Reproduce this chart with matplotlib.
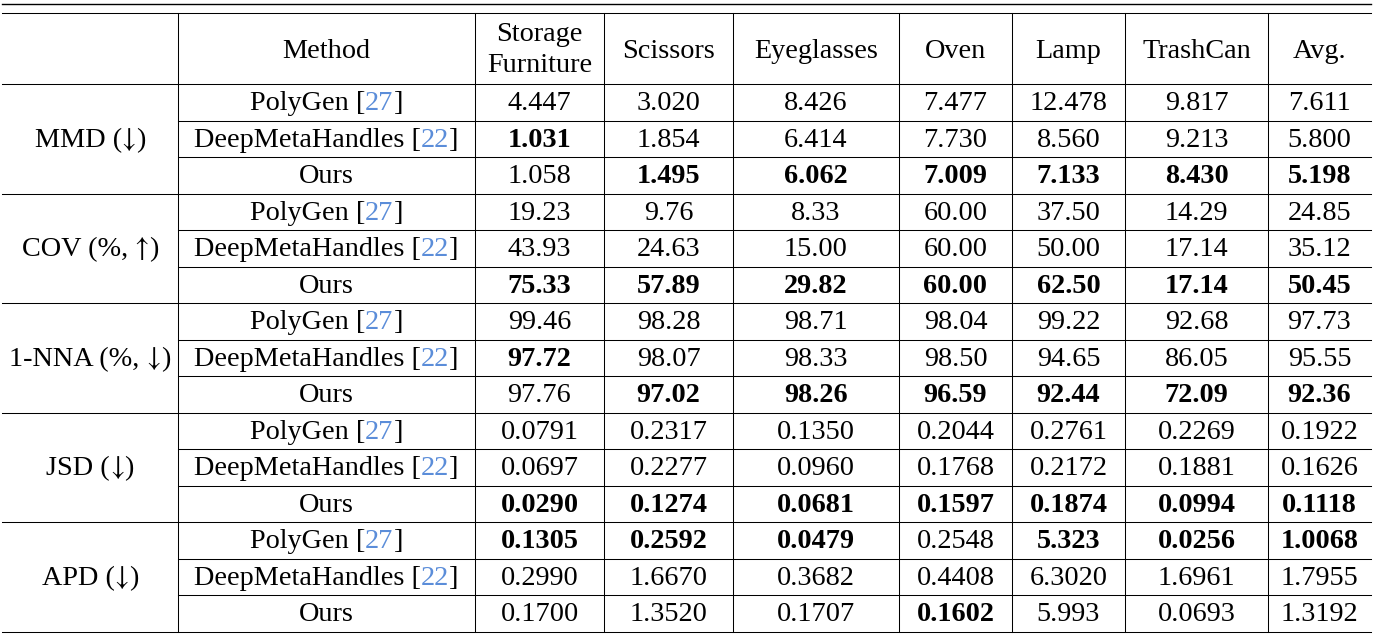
import matplotlib
matplotlib.use('Agg')
import matplotlib.pyplot as plt

# ---------------- data ----------------
categories = ["Storage\nFurniture", "Scissors", "Eyeglasses", "Oven", "Lamp", "TrashCan", "Avg."]
metric_names = ["MMD", "COV", "1-NNA", "JSD", "APD"]
metric_units = ["", "%, ", "%, ", "", ""]
metric_arrows = ["↓", "↑", "↓", "↓", "↓"]
methods = ["PolyGen", "DeepMetaHandles", "Ours"]
citations = ["27", "22", None]

mmd_vals = [["4.447", "3.020", "8.426", "7.477", "12.478", "9.817", "7.611"],
            ["1.031", "1.854", "6.414", "7.730", "8.560", "9.213", "5.800"],
            ["1.058", "1.495", "6.062", "7.009", "7.133", "8.430", "5.198"]]
mmd_bold = [[0, 0, 0, 0, 0, 0, 0],
            [1, 0, 0, 0, 0, 0, 0],
            [0, 1, 1, 1, 1, 1, 1]]

cov_vals = [["19.23", "9.76", "8.33", "60.00", "37.50", "14.29", "24.85"],
            ["43.93", "24.63", "15.00", "60.00", "50.00", "17.14", "35.12"],
            ["75.33", "57.89", "29.82", "60.00", "62.50", "17.14", "50.45"]]
cov_bold = [[0, 0, 0, 0, 0, 0, 0],
            [0, 0, 0, 0, 0, 0, 0],
            [1, 1, 1, 1, 1, 1, 1]]

nna_vals = [["99.46", "98.28", "98.71", "98.04", "99.22", "92.68", "97.73"],
            ["97.72", "98.07", "98.33", "98.50", "94.65", "86.05", "95.55"],
            ["97.76", "97.02", "98.26", "96.59", "92.44", "72.09", "92.36"]]
nna_bold = [[0, 0, 0, 0, 0, 0, 0],
            [1, 0, 0, 0, 0, 0, 0],
            [0, 1, 1, 1, 1, 1, 1]]

jsd_vals = [["0.0791", "0.2317", "0.1350", "0.2044", "0.2761", "0.2269", "0.1922"],
            ["0.0697", "0.2277", "0.0960", "0.1768", "0.2172", "0.1881", "0.1626"],
            ["0.0290", "0.1274", "0.0681", "0.1597", "0.1874", "0.0994", "0.1118"]]
jsd_bold = [[0, 0, 0, 0, 0, 0, 0],
            [0, 0, 0, 0, 0, 0, 0],
            [1, 1, 1, 1, 1, 1, 1]]

apd_vals = [["0.1305", "0.2592", "0.0479", "0.2548", "5.323", "0.0256", "1.0068"],
            ["0.2990", "1.6670", "0.3682", "0.4408", "6.3020", "1.6961", "1.7955"],
            ["0.1700", "1.3520", "0.1707", "0.1602", "5.993", "0.0693", "1.3192"]]
apd_bold = [[1, 1, 1, 0, 1, 1, 1],
            [0, 0, 0, 0, 0, 0, 0],
            [0, 0, 0, 1, 0, 0, 0]]

all_vals = [mmd_vals, cov_vals, nna_vals, jsd_vals, apd_vals]
all_bold = [mmd_bold, cov_bold, nna_bold, jsd_bold, apd_bold]

# ---------------- layout ----------------
W, H = 1373, 634
fig = plt.figure(figsize=(W / 100, H / 100), dpi=100)
ax = fig.add_axes([0, 0, 1, 1])
ax.set_xlim(0, W)
ax.set_ylim(H, 0)
ax.axis('off')

FONT = ['Liberation Serif', 'DejaVu Serif']
ARROW_FONT = ['STIXGeneral', 'DejaVu Serif']
FS = 20.3
CITE = '#5b8dd9'
LW = 0.75

x_left, x_right = 2, 1371
vlines = [178, 475, 604, 733, 899, 1012, 1125, 1268]
edges = [x_left] + vlines + [x_right]
col_centers = [(edges[i] + edges[i + 1]) / 2 for i in range(len(edges) - 1)]

y_top1, y_top2 = 3.5, 13
y_head = 84
row_h = 36.5
n_rows = len(metric_names) * len(methods)
row_lines = [y_head + i * row_h for i in range(n_rows + 1)]

renderer = fig.canvas.get_renderer()


def text_w(s, bold=False, family=FONT):
    t = ax.text(0, 0, s, fontsize=FS, family=family,
                fontweight='bold' if bold else 'normal')
    w = t.get_window_extent(renderer).width
    t.remove()
    return w


def put(x, y, s, bold=False, color='black', ha='center', family=FONT):
    ax.text(x, y, s, fontsize=FS, family=family, color=color, ha=ha, va='baseline',
            fontweight='bold' if bold else 'normal')


def put_pieces(cx, y, pieces):
    # pieces: (text, color, family)
    total = sum(text_w(p, family=f) for p, _, f in pieces)
    x = cx - total / 2
    for p, c, f in pieces:
        put(x, y, p, color=c, ha='left', family=f)
        x += text_w(p, family=f)


# rules
ax.plot([x_left, x_right], [y_top1, y_top1], color='black', lw=1.0)
ax.plot([x_left, x_right], [y_top2, y_top2], color='black', lw=LW)
ax.plot([x_left, x_right], [y_head, y_head], color='black', lw=LW)
for i, y in enumerate(row_lines[1:], start=1):
    if i % len(methods) == 0:
        ax.plot([x_left, x_right], [y, y], color='black', lw=LW)
    else:
        ax.plot([vlines[0], x_right], [y, y], color='black', lw=LW)
for x in vlines:
    ax.plot([x, x], [y_top2, row_lines[-1]], color='black', lw=LW)

# header
BASE = 8.0
put(col_centers[1], (y_top2 + y_head) / 2 + BASE + 1, "Method")
for j, cat in enumerate(categories):
    cx = col_centers[j + 2]
    lines = cat.split("\n")
    if len(lines) == 1:
        put(cx, (y_top2 + y_head) / 2 + BASE + 1, lines[0])
    else:
        put(cx, 41, lines[0])
        put(cx, 72, lines[1])

# body
for g, name in enumerate(metric_names):
    gy = row_lines[g * 3] + 1.5 * row_h
    put_pieces(col_centers[0], gy + BASE,
               [(name + " (" + metric_units[g], 'black', FONT),
                (metric_arrows[g], 'black', ARROW_FONT),
                (")", 'black', FONT)])
    for m, method in enumerate(methods):
        r = g * 3 + m
        yb = row_lines[r] + row_h / 2 + BASE
        if citations[m]:
            put_pieces(col_centers[1], yb,
                       [(method + " [", 'black', FONT), (citations[m], CITE, FONT),
                        ("]", 'black', FONT)])
        else:
            put(col_centers[1], yb, method)
        for j, v in enumerate(all_vals[g][m]):
            put(col_centers[j + 2], yb, v, bold=bool(all_bold[g][m][j]))

fig.savefig('out.png', dpi=100)
